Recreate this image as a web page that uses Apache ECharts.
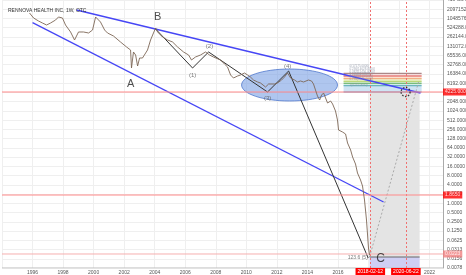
<!DOCTYPE html>
<html><head><meta charset="utf-8">
<script src="https://cdn.jsdelivr.net/npm/echarts@6/dist/echarts.min.js"></script>
<style>html,body{margin:0;padding:0;background:#fff;overflow:hidden}#c{width:466px;height:275px}</style>
</head><body><div id="c"></div>
<script>
// ---------- data ----------
const chartTitle = 'RENNOVA HEALTH INC, 1W, OTC';
const years = [1995.80,1996.07,1996.39,1996.65,1996.92,1997.18,1997.51,1997.70,1997.96,1998.16,
1998.49,1998.75,1999.01,1999.34,1999.67,1999.93,2000.13,2000.45,2000.72,2000.91,
2001.30,2001.76,2002.16,2002.42,2002.48,2002.61,2002.75,2002.88,2003.01,2003.20,
2003.53,2003.73,2003.92,2004.06,2004.19,2004.51,2004.84,2005.17,2005.50,2005.89,
2006.22,2006.41,2006.67,2007.00,2007.33,2007.59,2007.85,2008.31,2008.57,2008.77,
2008.97,2009.16,2009.43,2009.62,2009.88,2010.08,2010.27,2010.47,2010.74,2010.93,
2011.26,2011.46,2011.59,2011.85,2012.04,2012.31,2012.50,2012.70,2012.90,2013.16,
2013.35,2013.55,2013.75,2014.07,2014.27,2014.40,2014.53,2014.66,2014.80,2014.93,
2015.06,2015.19,2015.32,2015.52,2015.65,2015.84,2015.97,2016.04,2016.17,2016.30,
2016.50,2016.63,2016.83,2016.96,2017.15,2017.28,2017.48,2017.61,2017.74,2017.87,
2017.94,2018.00,2018.07];
const closes = [1582000,1087000,868200,747200,643100,747200,935800,1172000,1087000,643100,
380500,208800,380500,380500,353000,442000,1172000,805400,442000,353000,
281800,179700,123500,98610,25560,84880,67770,29700,54120,54120,
98610,208800,353000,513500,380500,261500,208800,179700,123500,84880,
67770,46580,58330,67770,84880,67770,58330,46580,34510,27560,
15120,12070,14030,15120,17570,15120,13010,10390,8945,8298,
6147,7699,8945,7699,8298,10390,13010,17570,12070,10390,
8945,9642,8945,10390,9642,7699,4909,3130,2318,3373,
3920,2694,1851,2151,1718,1016,517,244.3,226.7,210.3,
181.0,92.16,54.5,32.24,19.07,9.71,5.744,3.663,1.282,0.2859,
0.09282,0.03501,0.02071];

// annotations (year, price)
const upperChannel = [[1998.88,1981000],[2021.41,3920]];
const lowerChannel = [[1996.00,764200],[2018.99,1.1035]];
const waveYears  = [2004.06,2006.48,2007.53,2011.39,2012.77,2017.98];
const wavePrices = [476400,25560,84880,4225,20411,0.01654];
const projection = [[2018.07,0.01782],[2021.28,8945]];
const target = [2020.43,4225];
const hLevels = [4225,1.865,0.02233];
const hLevelColors = ['#ff0000','#ff0000','#f08080'];
const hLineColors = ['#ff8a8a','#ff8a8a','#f6b0b0'];
const vDates = [2018.12,2020.45];
const vDateLabels = ['2018-02-12','2020-06-22'];
const fibX = [2016.37,2021.48];
const fibPrices = [17175,14028,11456,9430,8113,6775,4225];
const fibRatios = ['0','0.236','0.382','0.5','0.618','0.786','1'];
const fibLineColors = ['#9a7070','#e05050','#f0a070','#b0d060','#60b060','#50a8b0','#5a8ccc'];
const fibFills = ['#f3dede','#fbe2d2','#eef4d0','#dcf0d6','#d4ece8','#cfe4f4'];
const zoneX = [2018.07,2021.35];
const zoneTop = 4225, zoneSplit = 0.01782;
const ellipseBox = [2009.69,2015.97,23700,2150];
const waveLabels = [
  {t:'A',x:2002.42,p:7699,s:11},{t:'B',x:2004.19,p:1172000,s:11},{t:'C',x:2018.79,p:0.01537,s:12},
  {t:'(1)',x:2006.48,p:15120,s:6},{t:'(2)',x:2007.59,p:133120,s:6},{t:'(3)',x:2011.39,p:2694,s:6},
  {t:'(4)',x:2012.70,p:29700,s:6},{t:'123.6 (5)',x:2017.30,p:0.01654,s:5}
];
const xMin = 1994, xMax = 2022.88;
const yExpMin = -7, yExpMax = 22;   // tick labels are powers of two

// ---------- chart ----------
const FONT = 'Liberation Sans, Arial, sans-serif';
const chart = echarts.init(document.getElementById('c'), null, {renderer:'canvas'});
const lineS = (pts, color, width, type, z) => ({type:'line', data:pts, symbol:'none', silent:true,
  lineStyle:{color, width, type:type||'solid'}, z:z||4, animation:false});

const series = [];
const areaData = [
  [{coord:[zoneX[0],zoneTop], itemStyle:{color:'#e4e4e4'}},{coord:[zoneX[1],zoneSplit]}],
  [{coord:[zoneX[0],zoneSplit], itemStyle:{color:'#cfcff4'}},{coord:[zoneX[1],Math.pow(2,yExpMin)]}]
];
for (let i=0;i<fibFills.length;i++) {
  areaData.push([{coord:[fibX[0],fibPrices[i]], itemStyle:{color:fibFills[i]}},{coord:[fibX[1],fibPrices[i+1]]}]);
}
series.push({type:'line', data:[], silent:true, z:1, animation:false,
  markArea:{silent:true, data:areaData, label:{show:false}}});
series.push(lineS([[xMin,Math.pow(2,yExpMin)],[xMax,Math.pow(2,yExpMin)]], '#bbbbbb', 1, 'solid', 1));
fibPrices.forEach((p,i)=>{
  series.push(lineS([[fibX[0],p],[fibX[1],p]], fibLineColors[i], 1, 'solid', 2));
});
hLevels.forEach((v,i)=>{
  series.push(lineS([[xMin,v],[xMax,v]], hLineColors[i], 1, 'solid', 5));
});
// price-level tags on the value axis
series.push({type:'scatter', symbolSize:0, silent:true, z:10, animation:false, clip:false,
  data: hLevels.map((v,i)=>({value:[xMax,v], label:{show:true, position:'right', distance:0, formatter:v.toFixed(4),
    backgroundColor:hLevelColors[i], color:'#fff', fontSize:5, fontFamily:FONT, padding:[1,2,1,2]}}))});
vDates.forEach((d,i)=>{
  series.push({type:'line', data:[], silent:true, z:5, animation:false,
    markLine:{silent:true, symbol:['none','none'], animation:false,
      lineStyle:{color:'#f07070', width:1, type:[2,2]},
      label:{show:true, position:'start', distance:0, formatter:vDateLabels[i], backgroundColor:'#ff0000', color:'#fff',
        fontSize:5, fontFamily:FONT, padding:[1,2,1,2]},
      data:[{xAxis:d}]}});
});
series.push(lineS(years.map((y,i)=>[y,closes[i]]), '#7d6656', 0.9, 'solid', 6));
series.push(lineS(upperChannel, '#4646f5', 1.3));
series.push(lineS(lowerChannel, '#4646f5', 1.3));
series.push(lineS(waveYears.map((y,i)=>[y,wavePrices[i]]), '#333', 1));
series.push(lineS(projection, '#aaaaaa', 1, [2,2]));
series.push(lineS([[zoneX[0],zoneSplit],[zoneX[1],zoneSplit]], '#666', 1));
series.push({type:'scatter', data:[target], symbol:'circle', symbolSize:9, silent:true, z:8, animation:false,
  itemStyle:{color:'rgba(0,0,0,0)', borderColor:'#111', borderWidth:1.3, borderType:[1.5,1.5]}});
series.push({type:'scatter', symbolSize:0, silent:true, z:9, animation:false,
  data: waveLabels.map(l=>({value:[l.x,l.p], label:{show:true, formatter:l.t, position:'inside', fontSize:l.s,
    color: l.s>=10 ? '#222' : '#555', fontFamily:FONT}}))});
series.push({type:'scatter', symbolSize:0, silent:true, z:9, animation:false,
  data: fibPrices.map((p,i)=>({value:[fibX[0],p], label:{show:true, position:'insideBottomLeft', formatter: fibRatios[i]+'('+p.toFixed(4)+')',
    fontSize:3, color:'#8890a0', fontFamily:FONT, offset:[1,-0.5], align:'left', verticalAlign:'bottom'}}))});

chart.setOption({
  animation:false,
  title:{text:chartTitle, left:3, top:3, textStyle:{fontSize:5, color:'#333', fontWeight:'normal', fontFamily:FONT}},
  grid:{left:2, right:23, top:0, bottom:7, containLabel:false, outerBoundsMode:'none'},
  xAxis:{type:'value', min:xMin, max:xMax, interval:2,
    axisLine:{show:false, onZero:false}, axisTick:{show:false},
    splitLine:{show:true, lineStyle:{color:'#efefef', width:1}},
    axisLabel:{fontSize:5, color:'#555', margin:2, fontFamily:FONT,
      formatter:v => (Number.isInteger(v) && v>=1996 && v!==2018 && v!==2020) ? String(v) : ''}},
  yAxis:[
    {type:'log', logBase:2, min:Math.pow(2,yExpMin), max:Math.pow(2,yExpMax), position:'right',
      axisLine:{show:true, onZero:false, lineStyle:{color:'#aaa'}}, axisTick:{show:false}, axisLabel:{show:false}, splitLine:{show:false}},
    {type:'value', min:yExpMin, max:yExpMax, interval:1, position:'right',
      axisLine:{show:false, onZero:false}, axisTick:{show:false},
      splitLine:{show:true, lineStyle:{color:'#efefef', width:1}},
      axisLabel:{fontSize:5, color:'#555', margin:4, fontFamily:FONT, formatter:v => Math.pow(2,v).toFixed(4)}}
  ],
  series
});

const a = chart.convertToPixel({gridIndex:0},[ellipseBox[0],ellipseBox[2]]);
const b = chart.convertToPixel({gridIndex:0},[ellipseBox[1],ellipseBox[3]]);
chart.setOption({graphic:[{type:'ellipse', silent:true, z:2,
  shape:{cx:(a[0]+b[0])/2, cy:(a[1]+b[1])/2, rx:Math.abs(b[0]-a[0])/2, ry:Math.abs(b[1]-a[1])/2},
  style:{fill:'rgba(110,152,225,0.55)', stroke:'rgba(80,120,205,0.8)', lineWidth:1}}]});
</script></body></html>
